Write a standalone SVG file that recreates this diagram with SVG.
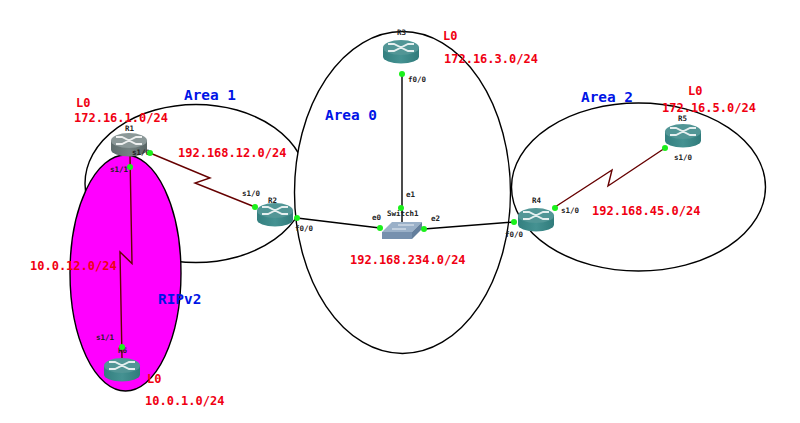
<svg xmlns="http://www.w3.org/2000/svg" width="800" height="423" viewBox="0 0 800 423">
<style>
.area{stroke:#000;stroke-width:1.4;fill:#fff}
.eth{stroke:#000;stroke-width:1.4;fill:none}
.ser{stroke:#600;stroke-width:1.4;fill:none}
.dot{fill:#1bf01b}
.net{font:bold 12px "DejaVu Sans Mono",monospace;fill:#f00012}
.ar{font:bold 14.4px "DejaVu Sans Mono",monospace;fill:#0014e6}
.lb{font:bold 7.5px "DejaVu Sans Mono",monospace;fill:#222}
.glyph{stroke:#fff;stroke-width:1.8;fill:none;opacity:.85}
</style>
<defs>
<linearGradient id="t" x1="0" y1="0" x2="1" y2="0"><stop offset="0" stop-color="#337f7f"/><stop offset=".5" stop-color="#459292"/><stop offset="1" stop-color="#307b7b"/></linearGradient>
<linearGradient id="g" x1="0" y1="0" x2="1" y2="0"><stop offset="0" stop-color="#5e6c6c"/><stop offset=".5" stop-color="#748181"/><stop offset="1" stop-color="#596666"/></linearGradient>
<g id="router">
<path d="M-18-4V5A18 7 0 0 0 18 5V-4Z" fill="url(#t)"/>
<ellipse cx="0" cy="-4" rx="18" ry="7.500" fill="#529696"/>
<path class="glyph" d="M-13-7.500H-7L7-.5H13M-13-.5H-7L7-7.500H13"/>
</g>
<g id="routerg">
<path d="M-18-4V5A18 7 0 0 0 18 5V-4Z" fill="url(#g)"/>
<ellipse cx="0" cy="-4" rx="18" ry="7.500" fill="#8b9898"/>
<path class="glyph" d="M-13-7.500H-7L7-.5H13M-13-.5H-7L7-7.500H13"/>
</g>
</defs>
<rect width="800" height="423" fill="#fff"/>
<g id="areas">
<ellipse id="area1" class="area" cx="196" cy="183.500" rx="111" ry="79"/>
<ellipse id="area2" class="area" cx="638.500" cy="187" rx="127" ry="84"/>
<ellipse id="area0" class="area" cx="402.500" cy="192.500" rx="108" ry="161"/>
<ellipse id="rip" cx="125.500" cy="273" rx="55.500" ry="118" fill="#f0f" stroke="#000" stroke-width="1.400"/>
</g>
<g id="connectors">
<path class="ser" d="M150 153 210 178 195 183 255 207"/>
<path class="ser" d="M555 207 612 170 608 186 665 148"/>
<path class="ser" d="M130 156 132 263.500 120 252 122 358"/>
<path class="eth" d="M297 218 380 228M402 74V225M424 229 514 222"/>
</g>
<g id="switch1">
<path d="M382 232 392 222H422L412 232Z" fill="#9ab0c8"/>
<rect x="382" y="232" width="30" height="7" fill="#7690ae"/>
<path d="M412 232 422 222V229L412 239Z" fill="#637e9c"/>
<path d="M392 229H406M398 225H414" stroke="#e8eef4" stroke-width="1.200"/>
<text class="lb" x="387" y="216">Switch1</text>
<text class="lb" x="372" y="220">e0</text>
<text class="lb" x="406" y="197">e1</text>
<text class="lb" x="431" y="221">e2</text>
</g>
<g id="R1"><use href="#routerg" x="129" y="144.500"/><text class="lb" x="125" y="131">R1</text><text class="lb" x="132" y="155">s1/0</text><text class="lb" x="110" y="172">s1/1</text></g>
<g id="R2"><use href="#router" x="275" y="214.500"/><text class="lb" x="268" y="203">R2</text><text class="lb" x="242" y="196">s1/0</text><text class="lb" x="295" y="231">f0/0</text></g>
<g id="R3"><use href="#router" x="401" y="51.500"/><text class="lb" x="397" y="35">R3</text><text class="lb" x="408" y="82">f0/0</text></g>
<g id="R4"><use href="#router" x="536" y="219.500"/><text class="lb" x="532" y="203">R4</text><text class="lb" x="561" y="213">s1/0</text><text class="lb" x="505" y="237">f0/0</text></g>
<g id="R5"><use href="#router" x="683" y="135.500"/><text class="lb" x="678" y="121">R5</text><text class="lb" x="674" y="160">s1/0</text></g>
<g id="R6"><use href="#router" x="122" y="369.500"/><text class="lb" x="118" y="353">R6</text><text class="lb" x="96" y="340">s1/1</text></g>
<g id="dots">
<circle class="dot" cx="150" cy="153" r="3"/><circle class="dot" cx="255" cy="207" r="3"/><circle class="dot" cx="297" cy="218" r="3"/><circle class="dot" cx="130" cy="167" r="3"/><circle class="dot" cx="402" cy="74" r="3"/><circle class="dot" cx="401" cy="208" r="3"/><circle class="dot" cx="380" cy="228" r="3"/><circle class="dot" cx="424" cy="229" r="3"/><circle class="dot" cx="514" cy="222" r="3"/><circle class="dot" cx="555" cy="208" r="3"/><circle class="dot" cx="665" cy="148" r="3"/><circle class="dot" cx="122" cy="347" r="3"/>
</g>
<g id="labels">
<text class="ar" x="184" y="100">Area 1</text>
<text class="ar" x="325" y="120">Area 0</text>
<text class="ar" x="581" y="102">Area 2</text>
<text class="ar" x="158" y="304">RIPv2</text>
<text class="net" x="76" y="107">L0</text>
<text class="net" x="74" y="122">172.16.1.0/24</text>
<text class="net" x="178" y="157">192.168.12.0/24</text>
<text class="net" x="443" y="40">L0</text>
<text class="net" x="444" y="63">172.16.3.0/24</text>
<text class="net" x="688" y="95">L0</text>
<text class="net" x="662" y="112">172.16.5.0/24</text>
<text class="net" x="592" y="215">192.168.45.0/24</text>
<text class="net" x="350" y="264">192.168.234.0/24</text>
<text class="net" x="30" y="270">10.0.12.0/24</text>
<text class="net" x="147" y="383">L0</text>
<text class="net" x="145" y="405">10.0.1.0/24</text>
</g>
</svg>
